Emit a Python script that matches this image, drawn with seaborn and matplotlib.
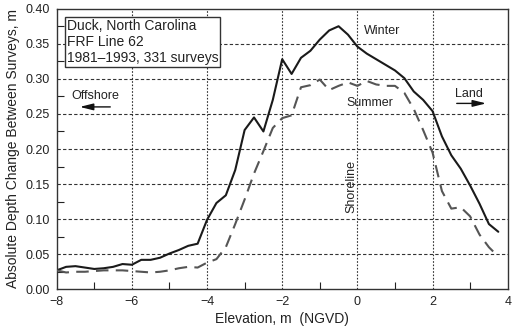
import numpy as np
import pandas as pd
import matplotlib
matplotlib.use("Agg")
import matplotlib.pyplot as plt
import seaborn as sns

# ---- data ----
winter_x = [-8.0, -7.75, -7.5, -7.25, -7.0, -6.75, -6.5, -6.25, -6.0, -5.75, -5.5, -5.25,
            -5.0, -4.75, -4.5, -4.25, -4.0, -3.75, -3.5, -3.25, -3.0, -2.75, -2.5, -2.25,
            -2.0, -1.75, -1.5, -1.25, -1.0, -0.75, -0.5, -0.25, 0.0, 0.25, 0.5, 0.75,
            1.0, 1.25, 1.5, 1.75, 2.0, 2.25, 2.5, 2.75, 3.0, 3.25, 3.5, 3.75]
winter_y = [0.027, 0.032, 0.033, 0.031, 0.029, 0.030, 0.032, 0.036, 0.035, 0.042, 0.042, 0.045,
            0.051, 0.056, 0.062, 0.065, 0.099, 0.123, 0.134, 0.170, 0.227, 0.245, 0.225, 0.270,
            0.328, 0.307, 0.330, 0.340, 0.356, 0.369, 0.375, 0.363, 0.346, 0.336, 0.328, 0.320,
            0.312, 0.301, 0.282, 0.270, 0.254, 0.218, 0.191, 0.172, 0.148, 0.122, 0.093, 0.082]

summer_x = [-8.0, -7.75, -7.5, -7.25, -7.0, -6.75, -6.5, -6.25, -6.0, -5.75, -5.5, -5.25,
            -5.0, -4.75, -4.5, -4.25, -4.0, -3.75, -3.5, -3.25, -3.0, -2.75, -2.5, -2.25,
            -2.0, -1.75, -1.5, -1.25, -1.0, -0.75, -0.5, -0.25, 0.0, 0.25, 0.5, 0.75,
            1.0, 1.25, 1.5, 1.75, 2.0, 2.25, 2.5, 2.75, 3.0, 3.25, 3.5, 3.65]
summer_y = [0.027, 0.024, 0.025, 0.025, 0.026, 0.027, 0.027, 0.027, 0.026, 0.025, 0.024, 0.025,
            0.027, 0.030, 0.032, 0.031, 0.038, 0.043, 0.060, 0.093, 0.128, 0.165, 0.197, 0.230,
            0.244, 0.248, 0.288, 0.291, 0.299, 0.284, 0.290, 0.295, 0.290, 0.297, 0.292, 0.290,
            0.290, 0.280, 0.257, 0.227, 0.195, 0.140, 0.115, 0.117, 0.104, 0.078, 0.060, 0.052]

x_ticks = [-8, -6, -4, -2, 0, 2, 4]
y_ticks = [0.00, 0.05, 0.10, 0.15, 0.20, 0.25, 0.30, 0.35, 0.40]

df = pd.concat([
    pd.DataFrame({"Elevation": winter_x, "Change": winter_y, "Season": "Winter"}),
    pd.DataFrame({"Elevation": summer_x, "Change": summer_y, "Season": "Summer"}),
])

sns.set_style("ticks")
plt.rcParams["font.family"] = ["Liberation Sans", "DejaVu Sans"]

fig = plt.figure(figsize=(5.14, 3.32), dpi=100)
ax = fig.add_axes([56.7 / 514, (332 - 289.3) / 332, 451 / 514, 280.6 / 332])

sns.lineplot(data=df[df.Season == "Winter"], x="Elevation", y="Change", ax=ax,
             color="#1a1a1a", lw=1.5, sort=False, zorder=3)
sns.lineplot(data=df[df.Season == "Summer"], x="Elevation", y="Change", ax=ax,
             color="#555555", lw=1.5, sort=False, zorder=3, linestyle=(0, (6, 3.5)))

ax.set_xlim(-8, 4)
ax.set_ylim(0, 0.4)
ax.set_xticks(x_ticks)
ax.set_yticks(y_ticks)
ax.set_xticks(np.arange(-7, 4, 2), minor=True)
ax.set_yticks(np.arange(0.025, 0.4, 0.05), minor=True)
ax.set_yticklabels([f"{v:.2f}" for v in y_ticks])
ax.set_xticklabels([str(v).replace("-", "\u2212") for v in x_ticks])

ax.tick_params(axis="both", which="both", direction="in", labelsize=9, colors="#222222",
               top=False, right=False)
ax.tick_params(which="major", length=0, pad=5)
ax.tick_params(which="minor", length=5, width=0.8)

for s in ax.spines.values():
    s.set_color("#333333")
    s.set_linewidth(1.0)

ax.grid(False)
for xv in x_ticks[1:-1]:
    ax.axvline(xv, color="#333333", lw=0.8, ls=(0, (1.5, 1.5)), zorder=1)
for yv in y_ticks[1:-1]:
    ax.axhline(yv, color="#333333", lw=0.8, ls=(0, (3, 2)), zorder=1)

ax.set_xlabel("Elevation, m  (NGVD)", fontsize=10, color="#222222", labelpad=3)
ax.set_ylabel("Absolute Depth Change Between Surveys, m", fontsize=10, color="#222222", labelpad=4)

ax.text(0.022, 0.962, "Duck, North Carolina\nFRF Line 62\n1981\u20131993, 331 surveys",
        transform=ax.transAxes, fontsize=10, va="top", ha="left", color="#222222",
        linespacing=1.15,
        bbox=dict(boxstyle="square,pad=0.15", fc="white", ec="#333333", lw=1.0), zorder=5)

ax.text(-6.96, 0.276, "Offshore", fontsize=9, ha="center", va="center", color="#222222")
ax.annotate("", xy=(-7.46, 0.260), xytext=(-6.50, 0.260),
            arrowprops=dict(arrowstyle="-|>,head_length=0.8,head_width=0.2", color="#111111", lw=1.0))
ax.text(2.97, 0.278, "Land", fontsize=9, ha="center", va="center", color="#222222")
ax.annotate("", xy=(3.50, 0.265), xytext=(2.57, 0.265),
            arrowprops=dict(arrowstyle="-|>,head_length=0.8,head_width=0.2", color="#111111", lw=1.0))

ax.text(0.67, 0.368, "Winter", fontsize=9, ha="center", va="center", color="#222222")
ax.text(0.34, 0.266, "Summer", fontsize=9, ha="center", va="center", color="#222222")
ax.text(-0.17, 0.147, "Shoreline", fontsize=9, ha="center", va="center", rotation=90, color="#222222")

fig.savefig("out.png", dpi=100)
